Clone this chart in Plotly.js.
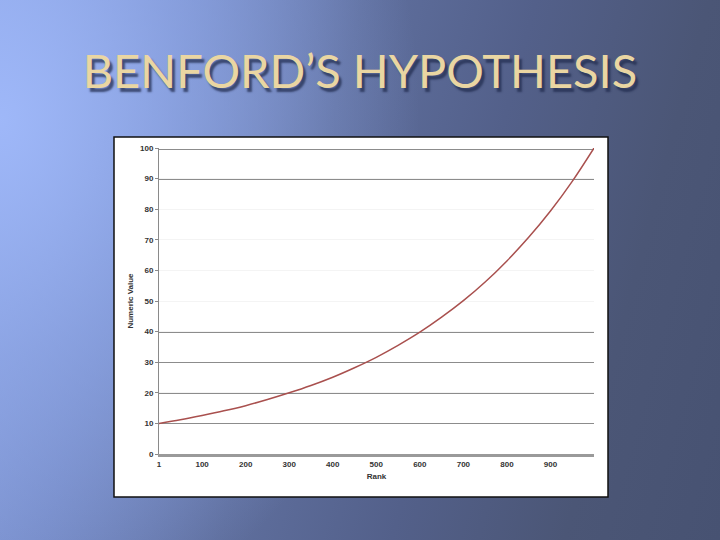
<!DOCTYPE html>
<html>
<head>
<meta charset="utf-8">
<script src="https://cdn.plot.ly/plotly-3.0.1.min.js"></script>
<style>
html,body{margin:0;padding:0;width:720px;height:540px;overflow:hidden;}
body{
  background:
    radial-gradient(ellipse 420px 520px at 0px 120px, rgba(160,185,250,0.95) 0%, rgba(150,175,240,0.6) 45%, rgba(140,165,230,0) 100%),
    linear-gradient(105deg, #8aa2e2 0%, #7287c2 22%, #5f6f9e 42%, #53608a 62%, #4b5676 82%, #475272 100%);
}
#chart{width:720px;height:540px;}
</style>
</head>
<body>
<div id="chart"></div>
<script>
// Data
const ranks = [1, 50, 100, 150, 200, 250, 300, 350, 400, 450, 500, 550, 600, 650, 700, 750, 800, 850, 900, 950, 1000];
const values = [10, 11.2, 12.6, 14.1, 15.8, 17.8, 20, 22.4, 25.1, 28.2, 31.6, 35.5, 39.8, 44.7, 50.1, 56.2, 63.1, 70.8, 79.4, 89.1, 100];
const xTickVals = [1, 100, 200, 300, 400, 500, 600, 700, 800, 900];
const xTickText = ['1', '100', '200', '300', '400', '500', '600', '700', '800', '900'];
const yTickVals = [0, 10, 20, 30, 40, 50, 60, 70, 80, 90, 100];
const yStrongGrid = [10, 20, 30, 40, 90, 100];

const trace = {
  x: ranks,
  y: values,
  type: 'scatter',
  mode: 'lines',
  line: {color: '#a9504e', width: 1.5, shape: 'spline'},
  hoverinfo: 'skip'
};

const tickFont = {family: 'Liberation Sans, Arial, sans-serif', size: 8, color: '#333', weight: 'bold'};

const layout = {
  width: 720,
  height: 540,
  margin: {l: 159, r: 126, t: 148, b: 86},
  paper_bgcolor: 'rgba(0,0,0,0)',
  plot_bgcolor: '#ffffff',
  showlegend: false,
  title: {
    text: 'BENFORD’S HYPOTHESIS',
    x: 0.5, xref: 'container', xanchor: 'center',
    y: 1 - 72/540, yref: 'container', yanchor: 'middle',
    font: {family: 'Lato, Open Sans, sans-serif', size: 47, weight: 'normal', color: '#ead6a2',
           shadow: '3px 4px 2px rgba(35,45,80,0.75)'}
  },
  xaxis: {
    range: [1, 1000],
    tickvals: xTickVals,
    ticktext: xTickText,
    showgrid: false,
    zeroline: false,
    showline: true,
    linecolor: '#9a9a9a',
    linewidth: 3,
    ticks: '',
    tickfont: tickFont,
    title: {text: '<b>Rank</b>', font: {family: 'Liberation Sans, Arial, sans-serif', size: 8, color: '#333'}, standoff: 6}
  },
  yaxis: {
    range: [0, 100],
    tickvals: yTickVals,
    showgrid: true,
    gridcolor: '#f4f4f4',
    gridwidth: 1,
    zeroline: false,
    showline: true,
    linecolor: '#8a8a8a',
    linewidth: 1,
    ticks: 'outside',
    ticklen: 3,
    tickcolor: '#8a8a8a',
    tickfont: tickFont,
    title: {text: '<b>Numeric Value</b>', font: {family: 'Liberation Sans, Arial, sans-serif', size: 8, color: '#333'}, standoff: 5}
  },
  yaxis2: {
    range: [0, 100.5],
    overlaying: 'y',
    tickvals: yStrongGrid,
    showticklabels: false,
    showgrid: true,
    gridcolor: '#8c8c8c',
    gridwidth: 1,
    zeroline: false,
    showline: false,
    ticks: ''
  },
  shapes: [{
    type: 'rect', layer: 'below',
    xref: 'paper', yref: 'paper',
    x0: (114 - 159) / 435, x1: (608 - 159) / 435,
    y0: (454 - 497) / 306, y1: (454 - 137) / 306,
    fillcolor: '#ffffff',
    line: {color: '#111111', width: 1.5}
  }]
};

const gridTrace = {x: [], y: [], yaxis: 'y2', type: 'scatter', hoverinfo: 'skip'};

Plotly.newPlot('chart', [gridTrace, trace], layout, {staticPlot: true, displayModeBar: false});
</script>
</body>
</html>
